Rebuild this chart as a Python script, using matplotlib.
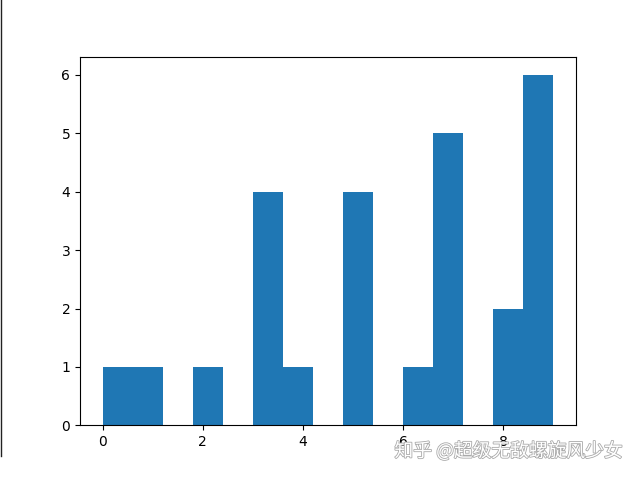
import numpy as np
import matplotlib.pyplot as plt
import matplotlib.patheffects as pe
from matplotlib.lines import Line2D

# integer samples and how often each occurs
values = [0, 1, 2, 3, 4, 5, 6, 7, 8, 9]
counts = [1, 1, 1, 4, 1, 4, 1, 5, 2, 6]
n_bins = 15

data = np.repeat(values, counts)

fig = plt.figure(figsize=(6.4, 4.78), dpi=100)
ax = fig.add_subplot(111)
ax.hist(data, bins=n_bins)

# screenshot border on the left edge
fig.add_artist(Line2D([0.001, 0.001], [0.045, 1.0], transform=fig.transFigure,
                      color='#222222', lw=1.0))

# watermark
fig.text(0.973, 0.056, '知乎 @超级无敌螺旋风少女', ha='right', va='center',
         fontsize=13.5, color='white', family=['Noto Sans CJK SC', 'DejaVu Sans'],
         path_effects=[pe.withStroke(linewidth=1.2, foreground='#aaaaaa')])

fig.savefig('out.png', dpi=100)
